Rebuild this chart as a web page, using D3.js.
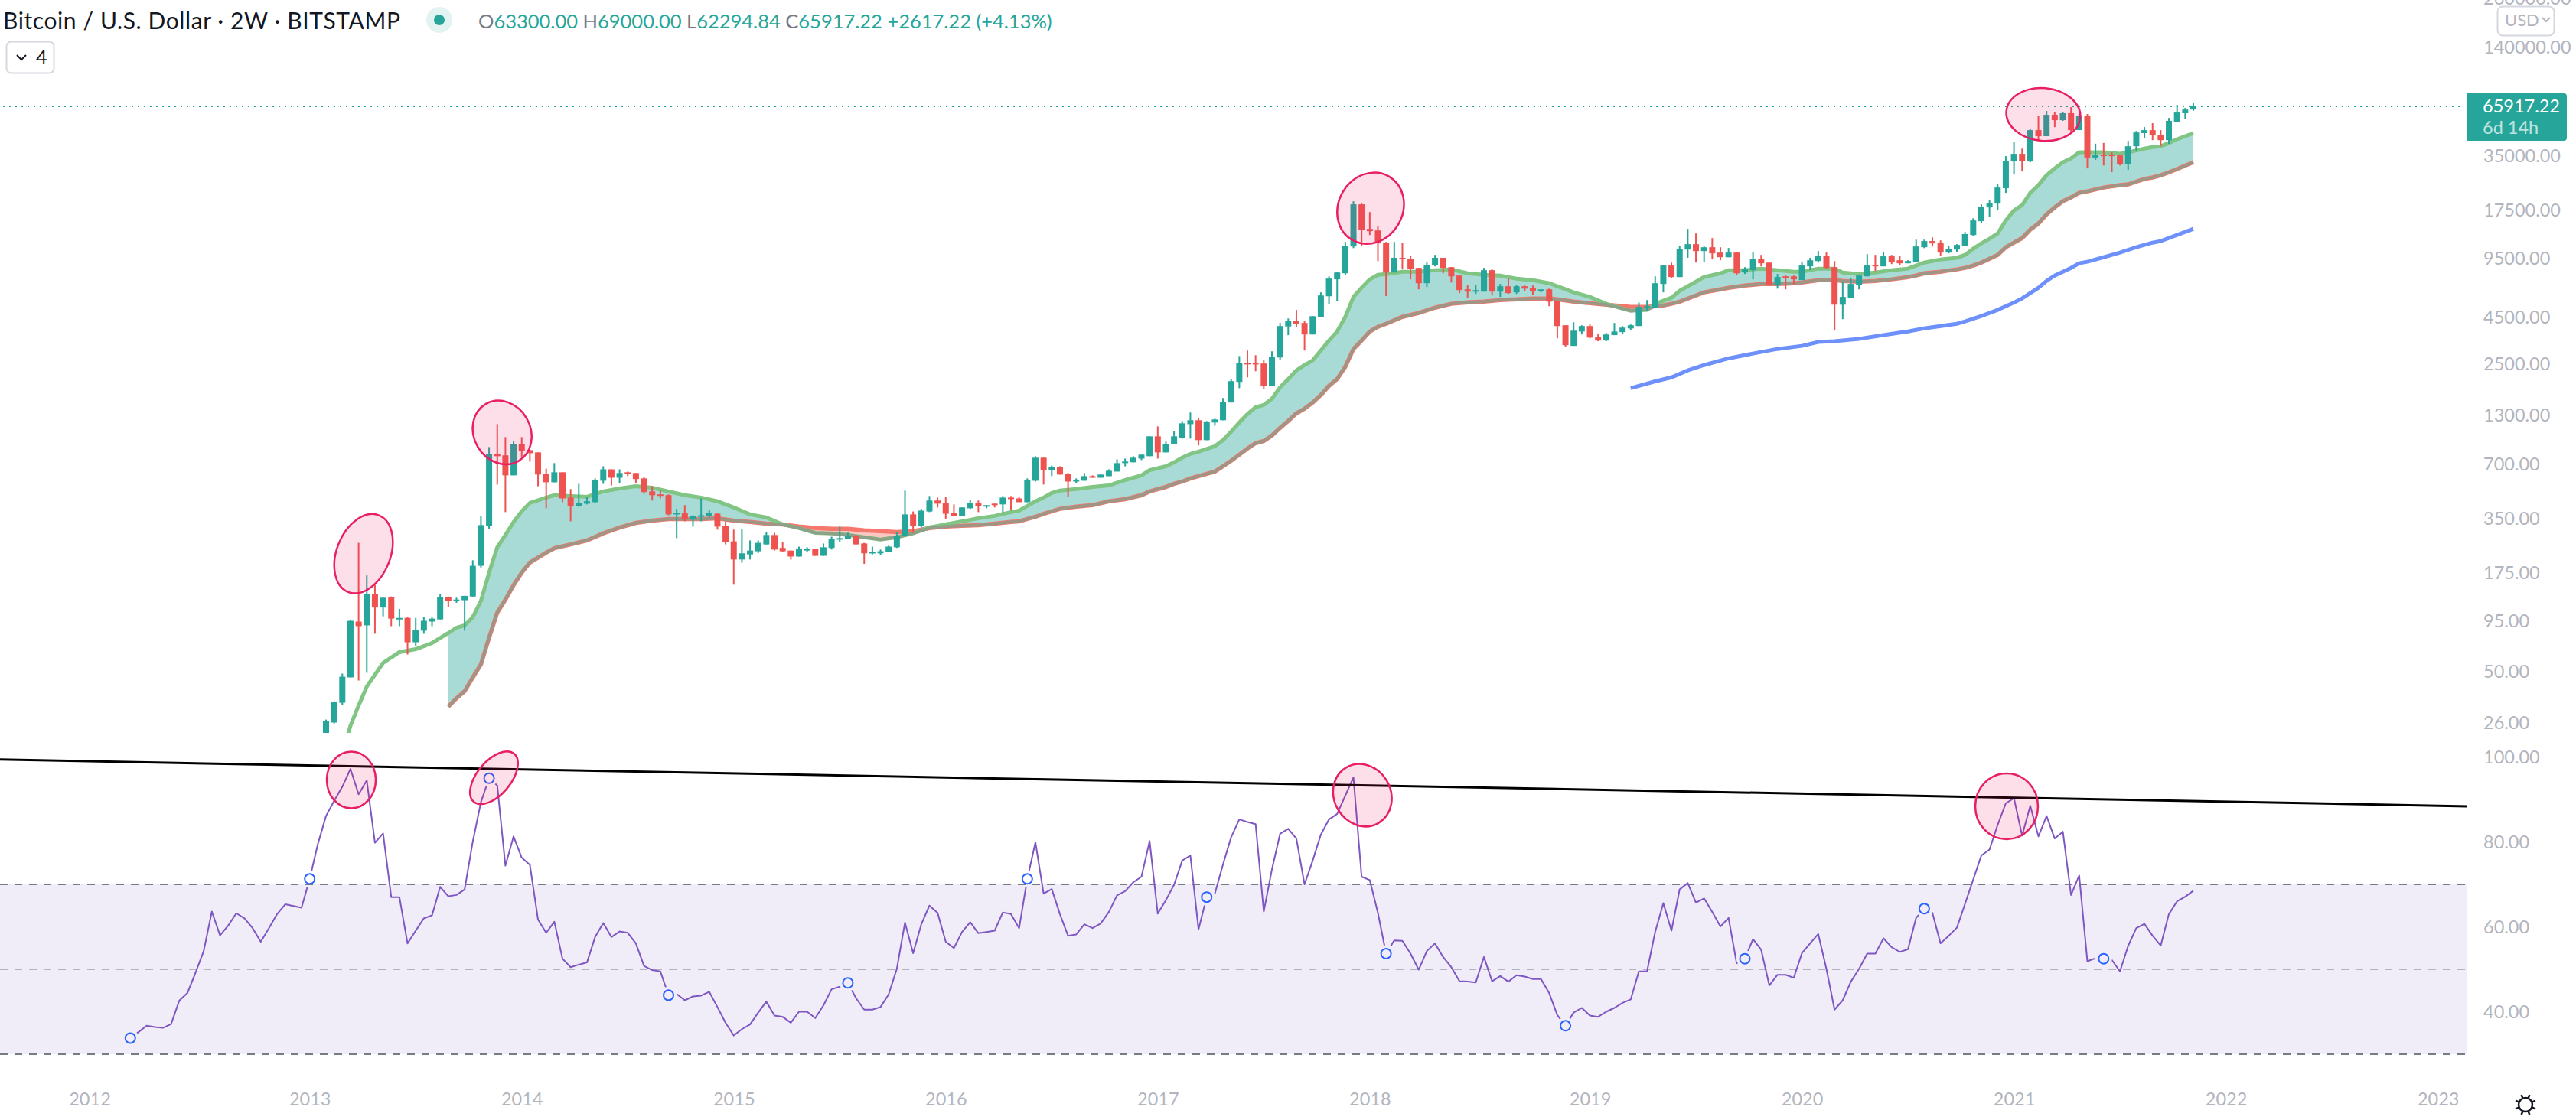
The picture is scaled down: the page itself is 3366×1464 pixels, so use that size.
<!DOCTYPE html>
<html>
<head>
<meta charset="utf-8">
<script src="https://cdn.jsdelivr.net/npm/d3@7"></script>
<style>
  html, body { margin: 0; padding: 0; background: #fff; }
  svg { display: block; }
  text { font-family: "Lato", "Open Sans", sans-serif; }
</style>
</head>
<body>
<script>
// Two-week BTC/USD candles, bar 0 is the first bar visible in the price pane.
const candleOpen = [19.9,26.2,33.7,46.5,94.5,90.1,134,113,129,98.1,99,72.7,84.2,94.5,97.2,129,124,124,130,192,
320,796,781,606,903,835,811,618,555,630,457,411,423,431,566,654,588,630,624,583,
494,476,471,369,376,348,358,362,372,319,262,208,222,231,252,284,241,233,216,233,
238,218,241,268,270,281,255,225,225,229,243,281,369,319,383,440,427,376,362,399,
427,408,423,419,457,452,431,566,758,648,674,618,560,566,600,588,600,636,708,715,
750,773,995,811,903,976,1162,1221,948,1186,1221,1529,1987,2530,2530,2510,1890,2710,4020,4330,
4200,3630,4540,5900,7316,7900,11110,18970,13890,13620,11660,7980,9620,9510,8461,6965,8720,9620,8540,7677,
6440,6260,6260,8220,6260,6700,6200,6700,6570,6320,6440,5570,4080,3140,3770,4040,3526,3360,3600,3740,
3920,4040,5100,5100,6900,8720,7530,10680,11440,10480,11000,10280,9690,10280,7980,8220,9510,9050,6830,7600,
7600,7240,8630,9230,9890,8540,5300,5790,6830,7600,8800,8630,9800,9326,8970,9150,11000,11900,11660,10280,
10680,11220,12850,15320,18240,19150,23280,32700,36050,32700,48730,45100,59200,55300,60400,48730,58600,34400,35700,35700,
35350,31500,39700,46900,48730,46000,42900,54250,60400,63300];
const candleHigh = [27.2,34.3,48.8,96.4,257,170,151,128,130,111,100,99,100,100,134,130,128,131,206,361,
868,1162,985,937,985,835,811,660,708,630,509,544,461,583,680,654,654,636,624,594,
528,499,476,396,415,365,452,391,376,338,304,307,265,265,295,292,260,233,245,243,
238,255,278,316,295,284,257,245,236,248,295,499,383,396,466,457,461,419,403,444,
440,415,423,466,466,461,583,773,758,687,680,624,583,624,606,612,654,743,750,773,
788,995,1129,930,1066,1209,1346,1258,1209,1246,1619,2060,2760,2960,2790,2633,2930,4200,4450,4960,
4330,4580,6200,7600,8060,11770,19720,19150,17200,14460,11770,11770,11660,9890,8461,9050,9980,9620,8540,7677,
6830,6830,8461,8300,6900,7385,6830,6760,6760,6440,6500,5570,4080,4240,4080,4120,3670,3700,4200,4040,
4120,5450,5620,7600,8800,9050,11220,13890,13100,11110,12360,11000,10900,10380,8540,10380,9980,9050,7830,7677,
7677,9150,9620,10480,10280,9230,7100,7460,7750,10080,9980,10380,9980,9800,9326,12120,12120,12480,12000,11220,
11440,13360,15900,18970,19920,24440,35000,42150,38500,49700,58600,62200,60950,61500,65250,59800,59800,41000,41400,36750,
35350,42500,48200,50650,53200,48730,56900,67200,64600,69000];
const candleLow = [19.3,25.9,32.8,46.5,44.7,49.3,81,101,89.2,89.2,62.2,69.3,81,89.2,97.2,114,120,84.2,130,188,
307,539,380,606,765,722,528,399,555,431,338,407,419,427,544,533,550,600,550,480,
440,452,365,273,338,316,338,355,304,252,151,200,208,226,252,233,229,208,216,229,
218,218,236,260,270,252,197,222,220,229,241,281,292,313,380,403,348,362,362,396,
380,399,403,376,391,431,431,560,539,600,612,461,550,566,588,588,600,636,680,715,
736,773,750,811,903,966,966,886,948,1140,1221,1529,1836,2105,2275,1820,1890,2610,3600,4000,
2960,3630,4540,5360,5568,7750,10880,11110,12850,9230,5910,7980,8300,7316,6440,6640,8630,7900,7030,6140,
5790,6080,6260,5960,5850,6080,6080,6320,6020,6200,5202,3460,3110,3140,3630,3460,3330,3330,3600,3670,
3850,4040,4910,5100,6200,7460,7530,9620,9050,9150,9420,9326,9690,7750,7830,7316,8630,6830,6500,6440,
6830,7240,8220,9050,8380,3850,4410,5790,6440,7600,8130,8630,8880,8800,8970,9150,10880,11110,9800,10180,
10380,11220,12730,14880,16230,17550,21950,27700,28800,32400,42900,45100,50650,54800,46900,48730,29960,33400,31100,28550,
31100,29400,37450,44220,42900,39700,40950,54250,56400,62294.84];
const candleClose = [26.7,34,46.9,95.4,89.2,134,113,128,98.1,99,72.7,85,95.4,98.1,129,123,125,131,192,322,
796,773,606,903,827,803,612,555,630,452,411,427,436,571,654,588,624,618,578,490,
471,471,369,376,348,362,365,376,316,260,208,225,233,257,284,236,231,216,238,238,
218,243,270,273,281,252,225,229,231,245,281,369,319,387,440,423,372,362,403,427,
411,415,415,457,452,431,571,758,648,674,612,560,571,600,588,612,642,708,722,758,
788,995,811,903,995,1174,1221,948,1197,1233,1543,2006,2530,2510,2480,1890,2740,4040,4330,4160,
3630,4580,5960,7385,7980,11220,18970,13760,13500,11550,7980,9620,9450,8380,6965,8800,9620,8461,7600,6380,
6260,6380,8220,6260,6700,6140,6700,6500,6320,6440,5510,4040,3170,3810,4040,3490,3360,3630,3770,3960,
4080,5150,5202,6965,8720,7530,10800,11440,10480,11000,10180,9690,10280,7900,8300,9510,8970,6830,7530,7460,
7316,8720,9326,9890,8461,5300,5850,6900,7677,8720,8630,9800,9150,8970,9230,11110,11900,11550,10280,10800,
11330,13000,15460,18420,19360,23500,33030,36050,33030,48730,45100,59200,55300,60400,48730,58600,34400,35700,35350,35000,
31500,39700,47300,48730,45550,42900,54800,60950,63300,65917.22];

// Moving-average cloud: sample bars with the fast and slow average at each.
const maBars = [2,3,4,5,7,9,11,13,15,16,17,18,19,20,21,22,23,24,25,27,28,30,32,34,36,38,40,42,44,46,48,50,52,54,56,58,60,62,64,66,68,70,72,74,76,78,80,82,84,85,86,87,88,89,90,92,94,96,98,100,101,103,104,105,106,107,109,110,111,112,113,114,115,116,117,118,119,120,121,122,123,124,125,126,127,128,129,130,132,134,136,138,140,142,144,146,148,150,151,153,155,157,159,160,162,163,164,165,166,168,169,171,172,174,176,178,180,181,183,185,186,188,190,192,194,195,196,198,200,201,202,203,204,205,206,207,208,209,210,211,212,213,214,215,216,218,220,221,223,224,225,226,227,229];
const maFast = [17.5,25.2,32.5,41.4,55.9,64.1,66.6,72,81.7,87.5,90.1,100,123,176,243,284,335,384,427,457,471,466,461,494,513,528,518,494,471,457,436,403,369,355,325,310,292,290,284,276,268,276,290,313,325,338,351,362,380,387,411,436,457,485,499,509,523,533,571,606,648,680,715,758,796,819,877,948,1055,1186,1320,1441,1483,1603,1855,2060,2300,2460,2610,2960,3360,3770,4540,5850,6570,7316,7750,7830,8060,8060,8220,8300,7900,7750,7677,7385,7240,6965,6700,6200,5850,5360,5050,4910,4960,5360,5570,5790,6320,7100,7530,7900,8220,8220,8380,8220,8060,8060,8380,8380,7980,7830,7980,8220,8380,8720,9050,9420,9620,9980,10800,11550,12240,13100,15460,17550,18790,21950,24200,27450,29960,32400,34000,36750,36750,36750,36050,36750,38500,39300,39700,41400,43400,46900];
const maSlow = [null,null,null,null,null,null,null,null,32.1,35.7,39,46.5,54.9,77.1,106,125,150,176,200,227,240,252,265,290,312,331,341,348,348,348,351,341,335,328,325,316,310,307,307,301,298,295,298,310,316,319,322,328,335,338,348,358,372,384,396,407,415,436,448,471,494,523,544,560,583,600,636,680,729,788,852,912,937,1005,1108,1209,1333,1413,1529,1682,1890,2060,2410,3020,3360,3770,4000,4160,4540,4770,5100,5360,5460,5510,5620,5680,5734,5734,5680,5510,5400,5300,5202,5150,5150,5202,5250,5360,5510,5960,6200,6440,6570,6760,6900,6900,6965,7030,7240,7240,7170,7100,7170,7316,7530,7677,7900,8060,8300,8461,8720,9050,9510,9980,11000,11660,12360,13760,14880,16720,18240,19720,20720,21950,22380,23500,24200,24440,26200,26700,27450,28500,29700,32400];

// Long-period average, only available on the later bars.
const longBars = [160,163,165,167,169,172,175,178,181,183,185,188,191,194,196,200,201,203,204,205,206,207,208,209,210,211,212,213,214,215,216,218,220,222,223,224,225,226,227,229];
const longValues = [1836,2000,2105,2300,2460,2680,2850,3020,3140,3300,3330,3430,3600,3770,3920,4160,4283,4590,4770,4960,5202,5450,5734,6140,6570,7170,7677,8060,8461,8970,9150,9690,10280,11000,11330,11660,11900,12360,12850,13890];

// RSI, one value per bar from rsiFirstBar onward.
const rsiFirstBar = -24;
const rsiValues = [33.8,35.2,36.7,36.4,36.2,37.1,42.6,44.4,49.2,54.3,63.6,58,60.3,63.2,62,59.7,56.5,59.7,63,65.3,64.9,64.5,71.3,79.5,
86.1,89.7,93,97.2,91.2,94.5,79.8,82,67,67,56.1,59.1,62,62.7,69.4,67.2,67.5,68.8,80.1,89.4,95,93.3,74.4,81.3,76.3,74.6,
61.7,58.6,61.2,52.5,50.5,51.1,51.6,57.6,60.9,57.6,58.9,58.6,56.1,50.8,49.8,49.5,43.9,44.2,42.7,43.6,43.8,44.7,41.1,37.4,34.4,35.9,37,39.8,42.4,39.1,38.8,37.4,40,40,38.5,41.5,45.3,45.9,46.8,43.2,40.5,40.5,41.1,44.1,50.1,61,53.8,60.6,65,63.3,
56.5,55,58.8,61.1,58.5,58.8,59.1,63.4,63,59.7,71.3,79.9,67.8,68.9,63,57.9,58.2,60.6,59.7,60.8,63.5,67.4,68.4,70.5,71.8,80.2,63.1,66.3,69.9,75.6,76.8,59.4,67,67.8,74.7,81.1,85.3,84.7,84.2,63.6,73.5,81.9,83.1,80.8,70,75.6,81.7,85.3,86.6,90.9,95.2,71.8,71,63.3,53.7,56.8,56.7,53.7,49.9,54.3,56.1,52.9,50.5,47.2,47.1,46.9,52.9,47.2,48.4,47.1,48.6,48.3,47.7,47.7,44.4,39.2,36.7,39.8,40.9,39.1,38.8,40,40.9,42.1,42.9,49.5,49.5,58.8,65.6,59.1,68.8,70.3,65.7,66.7,63.5,60.1,62.1,51.4,52.5,57.1,54.6,46.2,48.7,48.7,48,53.8,56.1,58.3,50.1,40.5,42.7,47.1,50.1,53.7,53.7,57.3,55.2,54.1,54.7,62.1,64.3,63.3,56.1,57.9,59.8,65.4,71.1,76.8,78.2,84,89.1,90.3,81.5,88.5,81.3,86.1,80.8,82.4,67.5,72.1,51.9,52.6,52.5,52.2,49.5,55.5,59.7,60.7,57.9,55.6,63,66,67.1,68.5];
const rsiMarkerBars = [-24,-2,20,42,64,86,108,130,152,174,196,218];

// Trend line drawn over the RSI pane.
const trendBars = [-40,262.6];
const trendValues = [99.4,88.4];

// Highlight ellipses on both panes.
const priceEllipseBars = [4.6,21.6,128.1,210.6];
const priceEllipseValues = [224,1045,18070,59500];
const rsiEllipseBars = [3.1,20.6,127.1,206.1];
const rsiEllipseValues = [94.6,95.1,91,88.4];

// Axis labels.
const priceTicks = [260000,140000,35000,17500,9500,4500,2500,1300,700,350,175,95,50,26];
const rsiTicks = [100,80,60,40];
const rsiLevels = [70,50,30];
const yearBars = [-29,-2,24,50,76,102,128,155,181,207,233,259];
const yearLabels = [2012,2013,2014,2015,2016,2017,2018,2019,2020,2021,2022,2023];

const W = 3366, H = 1464, paneRight = 3224, priceBottom = 958;
const UP = "#26a69a", DOWN = "#ef5350", AXIS = "#b2b5be";

const svg = d3.select("body").append("svg").attr("width", W).attr("height", H);
const defs = svg.append("defs");

const x = d3.scaleLinear().domain([0, 229]).range([426, 2866]);
const y = d3.scaleLog().domain([65917.22, 16479.3]).range([139, 281.6]);
const r = d3.scaleLinear().domain([70, 30]).range([1156, 1378]);

defs.append("clipPath").attr("id", "pricePane")
  .append("rect").attr("width", paneRight).attr("height", priceBottom);

// --- RSI pane ---
const rsiPane = svg.append("g");
rsiPane.append("rect")
  .attr("x", 0).attr("width", paneRight)
  .attr("y", r(70)).attr("height", r(30) - r(70))
  .attr("fill", "#f0edf9");
rsiPane.selectAll("line.level").data(rsiLevels).join("line")
  .attr("class", "level")
  .attr("x1", 0).attr("x2", paneRight)
  .attr("y1", d => r(d)).attr("y2", d => r(d))
  .attr("stroke", d => d === 50 ? "#b4b2c0" : "#787b86")
  .attr("stroke-width", 2)
  .attr("stroke-dasharray", "10 9");

// The line stops short of each marker, so cut small holes out of it.
const gaps = defs.append("mask").attr("id", "rsiGaps")
  .attr("maskUnits", "userSpaceOnUse")
  .attr("x", 0).attr("y", 0).attr("width", W).attr("height", H);
gaps.append("rect").attr("width", W).attr("height", H).attr("fill", "#fff");
gaps.selectAll("circle").data(rsiMarkerBars).join("circle")
  .attr("cx", d => x(d)).attr("cy", d => r(rsiValues[d - rsiFirstBar]))
  .attr("r", 11).attr("fill", "#000");

rsiPane.append("path")
  .attr("d", d3.line().x((d, i) => x(i + rsiFirstBar)).y(d => r(d))(rsiValues))
  .attr("fill", "none").attr("stroke", "#7e57c2").attr("stroke-width", 2)
  .attr("stroke-linejoin", "round")
  .attr("mask", "url(#rsiGaps)");

rsiPane.selectAll("circle.marker").data(rsiMarkerBars).join("circle")
  .attr("class", "marker")
  .attr("cx", d => x(d)).attr("cy", d => r(rsiValues[d - rsiFirstBar]))
  .attr("r", 6.5).attr("fill", "none")
  .attr("stroke", "#2962ff").attr("stroke-width", 2);

rsiPane.append("path")
  .attr("d", d3.line().x(d => x(d[0])).y(d => r(d[1]))(d3.zip(trendBars, trendValues)))
  .attr("stroke", "#000").attr("stroke-width", 3).attr("fill", "none");

// --- Price pane ---
const pricePane = svg.append("g").attr("clip-path", "url(#pricePane)");
const ma = maBars.map((b, i) => ({ bar: b, fast: maFast[i], slow: maSlow[i] }));
const hasSlow = d => d.slow !== null;

pricePane.append("path")
  .attr("d", d3.area().defined(hasSlow).x(d => x(d.bar))
    .y0(d => y(d.slow)).y1(d => y(Math.max(d.fast, d.slow)))(ma))
  .attr("fill", "#a8dad6");
pricePane.append("path")
  .attr("d", d3.area().defined(hasSlow).x(d => x(d.bar))
    .y0(d => y(d.fast)).y1(d => y(Math.max(d.fast, d.slow)))(ma))
  .attr("fill", "#fcc6c2");

pricePane.append("path")
  .attr("d", d3.line().defined(hasSlow).x(d => x(d.bar)).y(d => y(d.slow))(ma))
  .attr("fill", "none").attr("stroke", "#f6776c").attr("stroke-width", 5.5);
pricePane.append("path")
  .attr("d", d3.line().x(d => x(d.bar)).y(d => y(d.fast))(ma))
  .attr("fill", "none").attr("stroke", "#80c583").attr("stroke-width", 5);
// Lower edge of the cloud reads darker where both averages overlap.
pricePane.append("path")
  .attr("d", d3.line().defined(hasSlow).x(d => x(d.bar)).y(d => y(Math.min(d.fast, d.slow)))(ma))
  .attr("fill", "none").attr("stroke", "#8f9a8a").attr("stroke-opacity", 0.85).attr("stroke-width", 4);

pricePane.append("path")
  .attr("d", d3.line().x(d => x(d[0])).y(d => y(d[1]))(d3.zip(longBars, longValues)))
  .attr("fill", "none").attr("stroke", "#6d90fb").attr("stroke-width", 5);

const candles = candleClose.map((c, i) => ({
  bar: i, open: candleOpen[i], high: candleHigh[i], low: candleLow[i], close: c
}));
const colorOf = d => d.close >= d.open ? UP : DOWN;
pricePane.selectAll("rect.wick").data(candles).join("rect")
  .attr("class", "wick")
  .attr("x", d => x(d.bar) - 1).attr("width", 2)
  .attr("y", d => y(d.high)).attr("height", d => y(d.low) - y(d.high))
  .attr("fill", colorOf);
pricePane.selectAll("rect.body").data(candles).join("rect")
  .attr("class", "body")
  .attr("x", d => x(d.bar) - 4).attr("width", 8)
  .attr("y", d => y(Math.max(d.open, d.close)))
  .attr("height", d => Math.max(2, Math.abs(y(d.open) - y(d.close))))
  .attr("fill", colorOf);

// Last price line, drawn over the candles.
const lastClose = candleClose[candleClose.length - 1];
svg.append("line")
  .attr("x1", 4).attr("x2", paneRight - 4)
  .attr("y1", y(lastClose)).attr("y2", y(lastClose))
  .attr("stroke", UP).attr("stroke-width", 2).attr("stroke-dasharray", "2 6");

// --- Highlight ellipses: semi-axes and tilt in drawing units ---
const ellipseShapes = [[35, 54, 22], [37, 43, -30], [42, 48, 30], [48.5, 34.5, 5]];
const rsiEllipseShapes = [[32, 37, 0], [22, 41, 40], [37, 42, -30], [41, 43, 0]];
const ellipses = svg.append("g");
function drawEllipse(cx, cy, shape) {
  ellipses.append("ellipse")
    .attr("rx", shape[0]).attr("ry", shape[1])
    .attr("transform", `translate(${cx},${cy}) rotate(${shape[2]})`)
    .attr("fill", "#e91e63").attr("fill-opacity", 0.14)
    .attr("stroke", "#e91e63").attr("stroke-width", 2.5);
}
priceEllipseBars.forEach((b, i) => drawEllipse(x(b), y(priceEllipseValues[i]), ellipseShapes[i]));
rsiEllipseBars.forEach((b, i) => drawEllipse(x(b), r(rsiEllipseValues[i]), rsiEllipseShapes[i]));

// --- Axes ---
const fmt = d3.format(".2f");
const styleAxis = g => {
  g.select(".domain").remove();
  g.selectAll(".tick line").remove();
  g.selectAll("text").attr("fill", AXIS).style("font-size", "23.5px")
    .style("font-family", '"Lato", "Open Sans", sans-serif');
};
svg.append("g").attr("transform", "translate(3245,0)")
  .call(d3.axisRight(y).tickValues(priceTicks).tickFormat(fmt).tickSize(0).tickPadding(0))
  .call(styleAxis);
svg.append("g").attr("transform", "translate(3245,0)")
  .call(d3.axisRight(r).tickValues(rsiTicks).tickFormat(fmt).tickSize(0).tickPadding(0))
  .call(styleAxis);
svg.append("g").attr("transform", "translate(0,1428)")
  .call(d3.axisBottom(x).tickValues(yearBars).tickFormat((d, i) => yearLabels[i]).tickSize(0).tickPadding(0))
  .call(styleAxis);

// Currency button.
svg.append("rect").attr("x", 3263.5).attr("y", 8.5).attr("width", 74).attr("height", 38).attr("rx", 7)
  .attr("fill", "#fff").attr("stroke", "#d6d8e0").attr("stroke-width", 2);
svg.append("text").attr("x", 3273).attr("y", 34).attr("fill", AXIS).style("font-size", "22px").text("USD");
svg.append("path").attr("d", "M3322 23 l5 5 l5 -5").attr("fill", "none").attr("stroke", AXIS).attr("stroke-width", 2);

// Last price tag.
svg.append("path")
  .attr("d", "M3224 122 H3350 a4 4 0 0 1 4 4 V180 a4 4 0 0 1 -4 4 H3224 Z")
  .attr("fill", UP);
svg.append("text").attr("x", 3244).attr("y", 147).attr("fill", "#fff").style("font-size", "23.5px").text(fmt(lastClose));
svg.append("text").attr("x", 3244).attr("y", 175).attr("fill", "#fff").attr("fill-opacity", 0.7).style("font-size", "23.5px").text("6d 14h");

// --- Header ---
const last = candles[candles.length - 1];
const change = last.close - last.open;
svg.append("text").attr("x", 4).attr("y", 38).attr("fill", "#131722")
  .style("font-size", "30px").style("letter-spacing", "0.6px")
  .text("Bitcoin / U.S. Dollar · 2W · BITSTAMP");
svg.append("ellipse").attr("cx", 574).attr("cy", 26).attr("rx", 17).attr("ry", 17).attr("fill", UP).attr("fill-opacity", 0.13);
svg.append("circle").attr("cx", 574).attr("cy", 26).attr("r", 7).attr("fill", UP);
const ohlc = svg.append("text").attr("x", 625).attr("y", 37).style("font-size", "25.5px");
[["O", last.open], ["H", last.high], ["L", last.low], ["C", last.close]].forEach(([k, v]) => {
  ohlc.append("tspan").attr("fill", "#787b86").text(k);
  ohlc.append("tspan").attr("fill", UP).text(fmt(v) + " ");
});
ohlc.append("tspan").attr("fill", UP)
  .text(`+${fmt(change)} (+${fmt(change / last.open * 100)}%)`);

svg.append("rect").attr("x", 8.5).attr("y", 54.5).attr("width", 62).attr("height", 41).attr("rx", 6)
  .attr("fill", "#fff").attr("stroke", "#d6d8e0").attr("stroke-width", 2);
svg.append("path").attr("d", "M22 72 l6 6 l6 -6").attr("fill", "none").attr("stroke", "#131722").attr("stroke-width", 2);
svg.append("text").attr("x", 47).attr("y", 84).attr("fill", "#131722").style("font-size", "25px").text("4");

// Settings gear.
const gear = svg.append("g").attr("transform", "translate(3300,1444)")
  .attr("stroke", "#131722").attr("stroke-width", 2.5).attr("fill", "none");
gear.append("circle").attr("r", 9);
d3.range(8).forEach(i => {
  const a = i * Math.PI / 4 + Math.PI / 8;
  gear.append("line")
    .attr("x1", 9 * Math.cos(a)).attr("y1", 9 * Math.sin(a))
    .attr("x2", 14 * Math.cos(a)).attr("y2", 14 * Math.sin(a));
});
</script>
</body>
</html>
